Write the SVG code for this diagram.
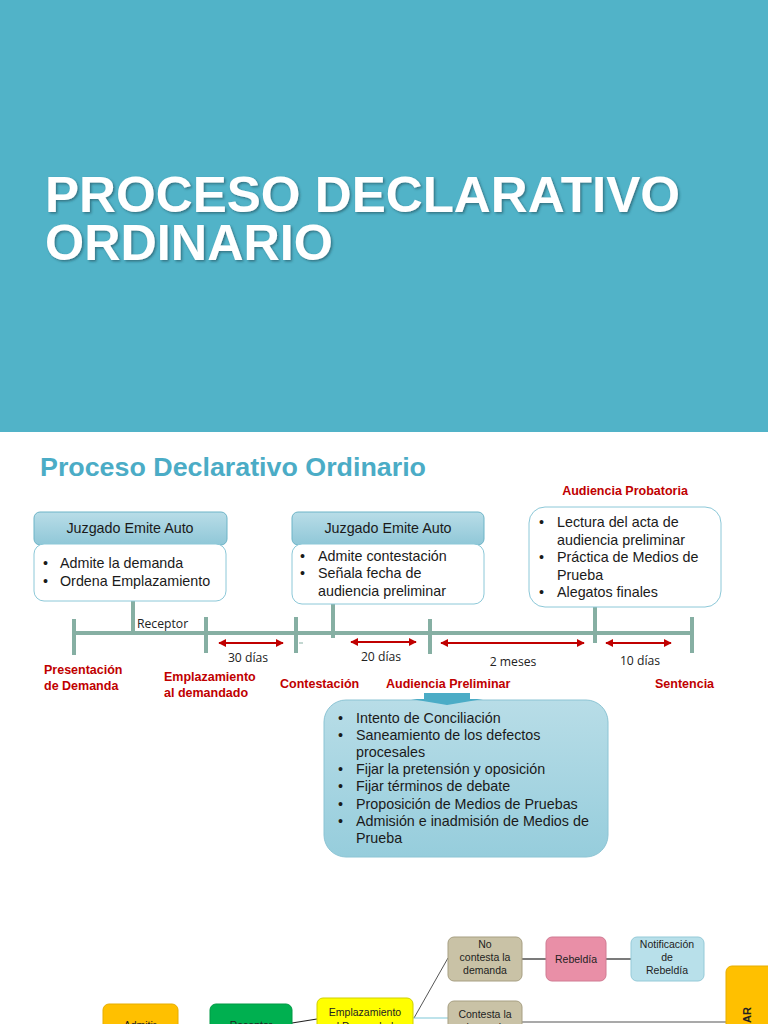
<svg xmlns="http://www.w3.org/2000/svg" width="768" height="1024" viewBox="0 0 768 1024">
<defs>
<linearGradient id="hdr" x1="0" y1="0" x2="0" y2="1"><stop offset="0" stop-color="#B9DDE8"/><stop offset="1" stop-color="#8FC7D7"/></linearGradient>
<linearGradient id="big" x1="0" y1="0" x2="0" y2="1"><stop offset="0" stop-color="#B8DDE7"/><stop offset="1" stop-color="#96CDDC"/></linearGradient>
<filter id="sh" x="-5%" y="-20%" width="110%" height="140%"><feDropShadow dx="1.5" dy="1.5" stdDeviation="0.8" flood-color="#1f4a55" flood-opacity="0.6"/></filter>
<marker id="ah" viewBox="0 0 10 10" refX="9" refY="5" markerWidth="4" markerHeight="4" orient="auto-start-reverse"><path d="M0,0 L10,5 L0,10 z" fill="#C00000"/></marker>
<style>
.t{font-family:"Liberation Sans",Arial,sans-serif;fill:#1a1a1a}
.b14{font-size:14.3px}
.red{font-family:"Liberation Sans",Arial,sans-serif;font-weight:bold;font-size:12.5px;fill:#C00000}
.cal{font-family:"Open Sans","Liberation Sans",sans-serif;font-size:12.2px;fill:#222}
.tick{stroke:#86AFA3;stroke-width:4;fill:none}
.arr{stroke:#C00000;stroke-width:2;marker-start:url(#ah);marker-end:url(#ah)}
.hdr{fill:url(#hdr);stroke:#6DB4C7;stroke-width:1}
.body{fill:#fff;stroke:#8CC8D8;stroke-width:1}
.mm{font-family:"Liberation Sans",Arial,sans-serif;font-size:10.5px;fill:#222;text-anchor:middle}
.cn{stroke:#222;stroke-width:1.2;fill:none}
</style>
</defs>
<rect width="768" height="1024" fill="#fff"/>
<g id="banner">
<rect x="0" y="0" width="768" height="432" fill="#51B3C8"/>
<g font-family="'Liberation Sans',Arial,sans-serif" font-weight="bold" font-size="50" fill="#fff" filter="url(#sh)">
<text x="45" y="212" textLength="635" lengthAdjust="spacingAndGlyphs">PROCESO DECLARATIVO</text>
<text x="45" y="260" textLength="288" lengthAdjust="spacingAndGlyphs">ORDINARIO</text>
</g>
</g>
<text x="40" y="476" font-family="'Liberation Sans',Arial,sans-serif" font-weight="bold" font-size="26" fill="#4BACC6" textLength="386" lengthAdjust="spacingAndGlyphs">Proceso Declarativo Ordinario</text>

<g id="connectors">
<line class="tick" x1="74" y1="633" x2="693" y2="633"/>
<line class="tick" x1="74" y1="619" x2="74" y2="655"/>
<line class="tick" x1="133" y1="600" x2="133" y2="633"/>
<line class="tick" x1="206" y1="617" x2="206" y2="653"/>
<line class="tick" x1="296" y1="617" x2="296" y2="653"/>
<line x1="299" y1="643" x2="303" y2="643" stroke="#86AFA3" stroke-width="1"/>
<line class="tick" x1="333" y1="604" x2="333" y2="638"/>
<line class="tick" x1="430" y1="619" x2="430" y2="654"/>
<line class="tick" x1="595" y1="607" x2="595" y2="643"/>
<line class="tick" x1="692" y1="617" x2="692" y2="653"/>
<line class="arr" x1="219" y1="643" x2="283" y2="643"/>
<line class="arr" x1="351" y1="642" x2="416" y2="642"/>
<line class="arr" x1="441" y1="643" x2="584" y2="643"/>
<line class="arr" x1="606" y1="643" x2="671" y2="643"/>
<line class="cn" x1="292" y1="1023" x2="317" y2="1019"/>
<line stroke="#555" stroke-width="1" x1="414" y1="1018" x2="448" y2="958"/>
<line stroke="#7FC8D8" stroke-width="1.2" x1="401" y1="1018" x2="448" y2="1018"/>
<line class="cn" x1="522" y1="959" x2="546" y2="959"/>
<line class="cn" x1="606" y1="959" x2="631" y2="959"/>
<line stroke="#555" stroke-width="1.2" x1="522" y1="1022" x2="726" y2="1022"/>
</g>

<text class="cal" x="137" y="628" font-size="13">Receptor</text>
<text class="cal" x="248" y="662" text-anchor="middle">30 días</text>
<text class="cal" x="381" y="661" text-anchor="middle">20 días</text>
<text class="cal" x="513" y="666" text-anchor="middle">2 meses</text>
<text class="cal" x="640" y="665" text-anchor="middle">10 días</text>

<text class="red" x="44" y="674">Presentación</text>
<text class="red" x="44" y="690">de Demanda</text>
<text class="red" x="164" y="681">Emplazamiento</text>
<text class="red" x="164" y="697">al demandado</text>
<text class="red" x="280" y="688">Contestación</text>
<text class="red" x="386" y="688">Audiencia Preliminar</text>
<text class="red" x="655" y="688">Sentencia</text>
<text class="red" x="625" y="495" text-anchor="middle">Audiencia Probatoria</text>

<g id="auto1">
<rect class="hdr" x="34" y="512" width="193" height="33" rx="6"/>
<rect class="body" x="34" y="544" width="192" height="57" rx="10"/>
<text class="t b14" x="130" y="533" text-anchor="middle">Juzgado Emite Auto</text>
<text class="t b14" x="43" y="568">•</text><text class="t b14" x="60" y="568">Admite la demanda</text>
<text class="t b14" x="43" y="586">•</text><text class="t b14" x="60" y="586">Ordena Emplazamiento</text>
</g>
<g id="auto2">
<rect class="hdr" x="292" y="512" width="192" height="33" rx="6"/>
<rect class="body" x="292" y="544" width="192" height="60" rx="10"/>
<text class="t b14" x="388" y="533" text-anchor="middle">Juzgado Emite Auto</text>
<text class="t b14" x="300" y="561">•</text><text class="t b14" x="318" y="561">Admite contestación</text>
<text class="t b14" x="300" y="578">•</text><text class="t b14" x="318" y="578">Señala fecha de</text>
<text class="t b14" x="318" y="596">audiencia preliminar</text>
</g>
<g id="probatoria">
<rect class="body" x="529" y="507" width="192" height="100" rx="16"/>
<text class="t b14" x="539" y="527">•</text><text class="t b14" x="557" y="527">Lectura del acta de</text>
<text class="t b14" x="557" y="545">audiencia preliminar</text>
<text class="t b14" x="539" y="562">•</text><text class="t b14" x="557" y="562">Práctica de Medios de</text>
<text class="t b14" x="557" y="580">Prueba</text>
<text class="t b14" x="539" y="597">•</text><text class="t b14" x="557" y="597">Alegatos finales</text>
</g>
<g id="preliminar">
<rect x="324" y="700" width="284" height="157" rx="22" fill="url(#big)" stroke="#8CC4D4"/>
<path d="M424,693 L470,693 L470,699 L483,699 L447,705 L411,699 L424,699 z" fill="#4BACC6"/>
<g class="t b14">
<text x="338" y="723">•</text><text x="356" y="723">Intento de Conciliación</text>
<text x="338" y="740">•</text><text x="356" y="740">Saneamiento de los defectos</text>
<text x="356" y="757">procesales</text>
<text x="338" y="774">•</text><text x="356" y="774">Fijar la pretensión y oposición</text>
<text x="338" y="791">•</text><text x="356" y="791">Fijar términos de debate</text>
<text x="338" y="809">•</text><text x="356" y="809">Proposición de Medios de Pruebas</text>
<text x="338" y="826">•</text><text x="356" y="826">Admisión e inadmisión de Medios de</text>
<text x="356" y="843">Prueba</text>
</g>
</g>

<g id="nocontesta">
<rect x="448" y="937" width="74" height="44" rx="6" fill="#C9C2A6" stroke="#A79F82"/>
<text class="mm" x="485" y="948">No</text>
<text class="mm" x="485" y="961">contesta la</text>
<text class="mm" x="485" y="974">demanda</text>
</g>
<g id="rebeldia">
<rect x="546" y="937" width="60" height="44" rx="6" fill="#E98FA7" stroke="#D07A92"/>
<text class="mm" x="576" y="963">Rebeldía</text>
</g>
<g id="notificacion">
<rect x="631" y="937" width="73" height="44" rx="6" fill="#B8E0EA" stroke="#95CAD8"/>
<text class="mm" x="667" y="948">Notificación</text>
<text class="mm" x="667" y="961">de</text>
<text class="mm" x="667" y="974">Rebeldía</text>
</g>
<g id="contesta">
<rect x="448" y="1001" width="74" height="44" rx="6" fill="#C9C2A6" stroke="#A79F82"/>
<text class="mm" x="485" y="1018">Contesta la</text>
<text class="mm" x="485" y="1031">demanda</text>
</g>
<g id="emplazamiento">
<rect x="317" y="998" width="96" height="46" rx="6" fill="#FFFF00" stroke="#CFCF00"/>
<text class="mm" x="365" y="1016">Emplazamiento</text>
<text class="mm" x="365" y="1030">al Demandado</text>
</g>
<g id="receptor">
<rect x="210" y="1004" width="82" height="40" rx="6" fill="#00B050" stroke="#009944"/>
<text class="mm" x="251" y="1029">Receptor</text>
</g>
<g id="admitir">
<rect x="103" y="1004" width="75" height="40" rx="6" fill="#FFC000" stroke="#E6AD00"/>
<text class="mm" x="140" y="1029">Admitir</text>
</g>
<g id="orange">
<rect x="726" y="966" width="50" height="80" rx="6" fill="#FFC000" stroke="#E6AD00"/>
<text x="751" y="1023" font-family="'Liberation Sans',Arial,sans-serif" font-weight="bold" font-size="11" fill="#222" transform="rotate(-90 751 1023)">AR</text>
</g>
</svg>
